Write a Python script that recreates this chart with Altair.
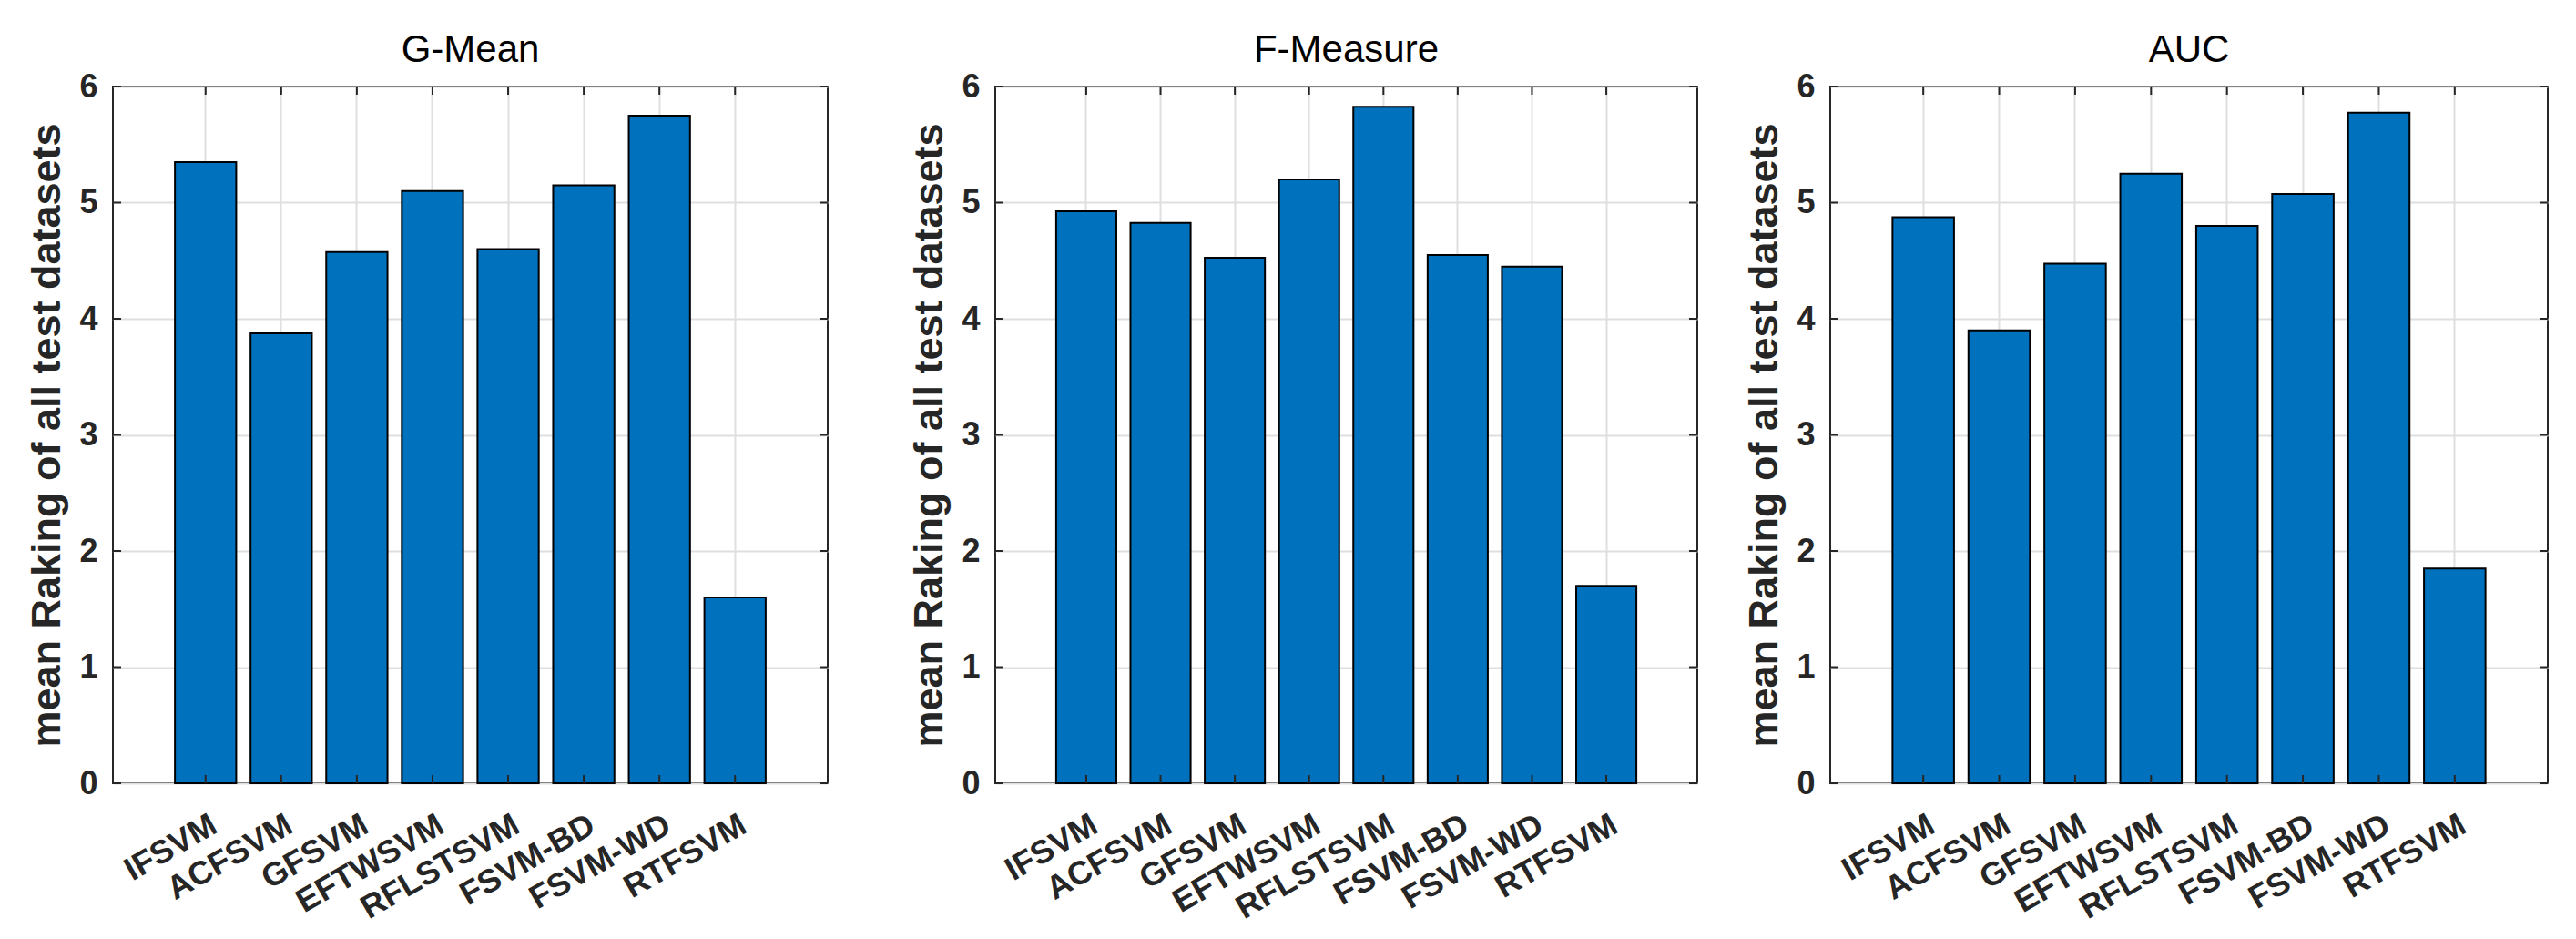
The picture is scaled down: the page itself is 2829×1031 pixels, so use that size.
import altair as alt
import pandas as pd

methods = ["IFSVM", "ACFSVM", "GFSVM", "EFTWSVM", "RFLSTSVM", "FSVM-BD", "FSVM-WD", "RTFSVM"]
gmean = [5.35, 3.875, 4.575, 5.1, 4.6, 5.15, 5.75, 1.6]
fmeasure = [4.925, 4.825, 4.525, 5.2, 5.825, 4.55, 4.45, 1.7]
auc = [4.875, 3.9, 4.475, 5.25, 4.8, 5.075, 5.775, 1.85]
titles = ["G-Mean", "F-Measure", "AUC"]
y_ticks = [0, 1, 2, 3, 4, 5, 6]
ylabel = "mean Raking of all test datasets"

FONT = "Liberation Sans"
AX = "#262626"
GRID = "#dfdfdf"
BAR = "#0072BD"
HEIGHT = 765
TICK_PX = 9
YMAX = 6


def panel(title, values, width):
    df = pd.DataFrame({"method": methods, "value": values})
    tl = TICK_PX / HEIGHT * YMAX
    xscale = alt.Scale(paddingInner=0.19, paddingOuter=0.82)
    yscale = alt.Scale(domain=[0, YMAX], nice=False)
    xaxis = alt.Axis(labelAngle=-30, labelAlign="right", labelBaseline="top",
                     labelOffset=1, labelPadding=28, ticks=False, domain=False,
                     grid=True, bandPosition=0.5, gridColor=GRID, gridWidth=2,
                     labelFont=FONT, labelFontSize=36, labelFontWeight="bold",
                     labelColor=AX, labelOverlap=False, labelLimit=500)
    yaxis = alt.Axis(values=y_ticks, format="d", ticks=False, domain=False,
                     grid=True, gridColor=GRID, gridWidth=2,
                     labelFont=FONT, labelFontSize=36, labelFontWeight="bold",
                     labelColor=AX, labelPadding=17,
                     titleFont=FONT, titleFontSize=45, titleFontWeight="bold",
                     titleColor=AX, titlePadding=12)
    x = alt.X("method:N", sort=methods, title=None, scale=xscale, axis=xaxis)
    bars = alt.Chart(df).mark_bar(color=BAR, stroke="black", strokeWidth=2).encode(
        x=x, y=alt.Y("value:Q", scale=yscale, title=ylabel, axis=yaxis)
    )
    xb = alt.X("method:N", sort=methods, title=None, scale=xscale)
    bot = alt.Chart(df).mark_rule(color=AX, strokeWidth=2).encode(
        x=xb, y=alt.datum(0), y2=alt.datum(tl))
    top = alt.Chart(df).mark_rule(color=AX, strokeWidth=2).encode(
        x=xb, y=alt.datum(YMAX), y2=alt.datum(YMAX - tl))
    tdf = pd.DataFrame({"v": y_ticks})
    left = alt.Chart(tdf).mark_rule(color=AX, strokeWidth=2).encode(
        y=alt.Y("v:Q", title=ylabel), x=alt.value(0), x2=alt.value(TICK_PX))
    right = alt.Chart(tdf).mark_rule(color=AX, strokeWidth=2).encode(
        y=alt.Y("v:Q", title=ylabel), x=alt.value(width), x2=alt.value(width - TICK_PX))
    return alt.layer(bars, bot, top, left, right).properties(
        width=width, height=HEIGHT,
        title=alt.TitleParams(title, font=FONT, fontSize=42, fontWeight="normal",
                              color="black", offset=0,
                              anchor="middle", frame="group"),
    )


p1 = panel(titles[0], gmean, 785)
p2 = panel(titles[1], fmeasure, 771)
p3 = panel(titles[2], auc, 788)

chart = alt.hconcat(alt.hconcat(p1, p2, spacing=86), p3, spacing=48).properties(
    padding={"left": 20, "top": 25, "right": 5, "bottom": 5}
).configure(background="white").configure_view(stroke=AX, strokeWidth=2)

chart.save("out.html", embed_options={"renderer": "svg", "actions": False})
